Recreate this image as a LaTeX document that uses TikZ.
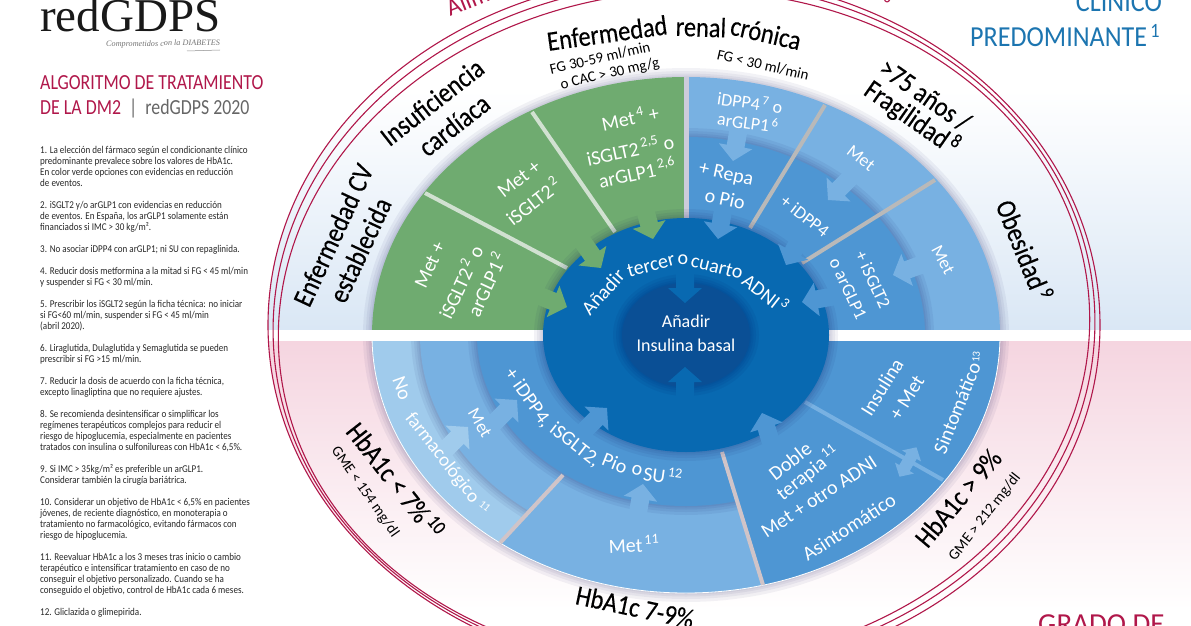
\documentclass[tikz,border=0pt]{standalone}
\usepackage{fontspec}
\setmainfont{Carlito}
\newfontfamily\logofont{Liberation Serif}
\newfontfamily\notefont[FakeStretch=0.87]{Carlito}
\newfontfamily\headfont[FakeBold=0.3,FakeStretch=0.87]{Carlito}
\newfontfamily\titlefont[FakeStretch=0.83]{Carlito}
\newfontfamily\cornerfont[FakeStretch=0.9]{Carlito}

\definecolor{crimson}{HTML}{B0174A}
\definecolor{sectorgreen}{HTML}{6FAB70}
\definecolor{lightblue}{HTML}{A0CBEC}
\definecolor{softblue}{HTML}{78B1E2}
\definecolor{midblue}{HTML}{4E96D3}
\definecolor{ringblue}{HTML}{0869B1}
\definecolor{coreblue}{HTML}{0A4F95}
\definecolor{paleblue}{HTML}{DAE7F5}
\definecolor{palepink}{HTML}{F5D5E0}
\definecolor{titleblue}{HTML}{1C75B0}

\begin{document}
\begin{tikzpicture}[x=1pt,y=-1pt,
    softedge/.style={draw=black!70!blue,opacity=.05},
    inlabel/.style={text=white,font=\fontsize{20}{22}\selectfont,inner sep=0pt},
    smallin/.style={text=white,font=\fontsize{18}{20}\selectfont,inner sep=0pt},
    headlabel/.style={text=black,font=\headfont\fontsize{28}{30}\selectfont,inner sep=0pt},
    sublabel/.style={text=black,font=\fontsize{15}{17}\selectfont,inner sep=0pt},
    splitline/.style={line width=4pt,line cap=butt},
    redline/.style={draw=crimson,line width=1.1pt}]

    \useasboundingbox (0,0) rectangle (1191,626);
    \clip (0,0) rectangle (1191,626);

    \def\redoutline{(684,325) ellipse (416 and 350)}
    \def\sectors{(686,335) ellipse (314 and 258)}
    \def\upperring{(686,335) ellipse (239 and 198)}
    \def\lowerwide{(686,335) ellipse (266 and 218)}
    \def\lowertight{(686,335) ellipse (209 and 171)}
    \def\addring{(686,335) ellipse (143 and 117)}
    \def\insulincore{(686,335) ellipse (64 and 52)}
    \def\tophalf{(300,0) rectangle (1100,329)}
    \def\bottomhalf{(300,341) rectangle (1100,626)}

    \def\blockarrow#1#2#3#4{\fill[#4,shift={(#1,#2)},rotate=#3] (0,0) -- (-15,17) -- (-15,9) -- (-44,9) -- (-44,-9) -- (-15,-9) -- (-15,-17) -- cycle;}
    \def\softring#1{\foreach \w in {18,12,7,3} \draw[softedge,line width=\w pt] #1;}

    %background:
    \begin{scope}
        \clip \redoutline;
        \shade[top color=white,bottom color=paleblue] (260,90) rectangle (684,329);
        \shade[top color=palepink,bottom color=white] (260,341) rectangle (684,610);
    \end{scope}
    \shade[top color=white,bottom color=paleblue] (684,90) rectangle (1191,329);
    \shade[top color=palepink,bottom color=white] (684,341) rectangle (1191,610);

    %red rings:
    \draw[redline] \redoutline;
    \draw[redline,rotate around={2:(684,326)}] (684,326) ellipse (411 and 344);
    \draw[redline,rotate around={4:(684,328)}] (684,328) ellipse (406 and 337);

    %upper half:
    \begin{scope}
        \clip \tophalf;
        \softring{\sectors}
        \begin{scope}
            \clip (300,0) rectangle (686,329);
            \fill[sectorgreen] \sectors;
        \end{scope}
        \begin{scope}
            \clip (686,0) rectangle (1100,329);
            \fill[softblue] \sectors;
            \softring{\upperring}
            \fill[midblue] \upperring;
        \end{scope}
    \end{scope}

    %lower half:
    \begin{scope}
        \clip \bottomhalf;
        \softring{\sectors}
        \fill[midblue] \sectors;
        \begin{scope}
            \clip (340,341) -- (688,341) -- (774,626) -- (340,626) -- cycle;
            \fill[softblue] \sectors;
            \begin{scope}
                \clip (340,341) -- (687,341) -- (423,626) -- (340,626) -- cycle;
                \fill[lightblue] \sectors;
                \softring{\lowerwide}
                \fill[softblue] \lowerwide;
            \end{scope}
            \softring{\lowertight}
            \fill[midblue] \lowertight;
        \end{scope}
        \draw[white,line width=.8pt] \sectors;
    \end{scope}

    %dividers:
    \draw[splitline,draw=black!20!green!10!white!80!gray] (425,193) -- (567,268);
    \draw[splitline,draw=black!20!green!10!white!80!gray] (532,112) -- (615,232);
    \draw[line width=5pt,draw=black!20!blue!10!white!75!gray] (686,77) -- (686,218);
    \draw[splitline,draw=gray!55!white] (825,105) -- (750,228);
    \draw[splitline,draw=gray!55!white] (935,180) -- (802,263);
    \draw[splitline,draw=crimson!20!gray!40!white] (500,543) -- (563,475);
    \draw[splitline,draw=crimson!20!gray!40!white] (722,452) -- (763,585);
    \draw[line width=4pt,draw=softblue] (805,402) -- (943,480);

    %centre:
    \softring{\addring}
    \fill[ringblue] \addring;
    \softring{\insulincore}
    \fill[coreblue] \insulincore;

    %arrows into the centre:
    \blockarrow{567}{307}{-22}{sectorgreen}
    \blockarrow{601}{268}{-55}{sectorgreen}
    \blockarrow{653}{239}{-75}{sectorgreen}
    \blockarrow{718}{239}{-100}{midblue}
    \blockarrow{786}{265}{-118}{midblue}
    \blockarrow{802}{302}{190}{midblue}
    \blockarrow{733}{161}{-100}{softblue}
    \blockarrow{828}{200}{225}{softblue}
    \blockarrow{893}{275}{200}{softblue}
    \blockarrow{468}{427}{45}{lightblue}
    \blockarrow{517}{400}{45}{softblue}
    \blockarrow{607}{408}{45}{midblue}
    \blockarrow{643}{484}{80}{softblue}
    \blockarrow{762}{413}{107}{midblue}
    \blockarrow{685}{303}{-90}{ringblue}
    \blockarrow{685}{367}{90}{ringblue}

    %double arrow on the last divider:
    \fill[softblue,shift={(908,462)},rotate=60] (17,0) -- (7,11) -- (7,6) -- (-7,6) -- (-7,11) -- (-17,0) -- (-7,-11) -- (-7,-6) -- (7,-6) -- (7,-11) -- cycle;

    %left column:
    \node[anchor=base west,inner sep=0pt,font=\logofont\fontsize{47}{47}\selectfont,text=black!90] (logo) at (40,32) {redGDPS};
    \node[anchor=base west,inner sep=0pt,rotate=1,font=\logofont\itshape\fontsize{8.2}{9}\selectfont,text=black!55] (motto) at (106,47) {Comprometidos con la DIABETES};
    \draw[black!45,line width=.5pt] (187,51) -- (220,50);
    \node[anchor=base west,inner sep=0pt,font=\titlefont\fontsize{21.5}{23}\selectfont,text=crimson] (titlea) at (40,89) {ALGORITMO DE TRATAMIENTO};
    \node[anchor=base west,inner sep=0pt,font=\titlefont\fontsize{21.5}{23}\selectfont,text=crimson] (titleb) at (40,114) {DE LA DM2 \textcolor{black!60}{\ | \ redGDPS 2020}};
    \node[anchor=north west,inner sep=0pt,align=left,text=black!85,font=\notefont\fontsize{10.4}{11}\selectfont] (notes) at (40,146) {%
        1. La elección del fármaco según el condicionante clínico\\
        predominante prevalece sobre los valores de HbA1c.\\
        En color verde opciones con evidencias en reducción\\
        de eventos.\\[11pt]
        2. iSGLT2 y/o arGLP1 con evidencias en reducción\\
        de eventos. En España, los arGLP1 solamente están\\
        financiados si IMC > 30 kg/m².\\[11pt]
        3. No asociar iDPP4 con arGLP1; ni SU con repaglinida.\\[11pt]
        4. Reducir dosis metformina a la mitad si FG < 45 ml/min\\
        y suspender si FG < 30 ml/min.\\[11pt]
        5. Prescribir los iSGLT2 según la ficha técnica: no iniciar\\
        si FG<60 ml/min, suspender si FG < 45 ml/min\\
        (abril 2020).\\[11pt]
        6. Liraglutida, Dulaglutida y Semaglutida se pueden\\
        prescribir si FG >15 ml/min.\\[11pt]
        7. Reducir la dosis de acuerdo con la ficha técnica,\\
        excepto linagliptina que no requiere ajustes.\\[11pt]
        8. Se recomienda desintensificar o simplificar los\\
        regímenes terapéuticos complejos para reducir el\\
        riesgo de hipoglucemia, especialmente en pacientes\\
        tratados con insulina o sulfonilureas con HbA1c < 6,5\%.\\[11pt]
        9. Si IMC > 35kg/m² es preferible un arGLP1.\\
        Considerar también la cirugía bariátrica.\\[11pt]
        10. Considerar un objetivo de HbA1c < 6,5\% en pacientes\\
        jóvenes, de reciente diagnóstico, en monoterapia o\\
        tratamiento no farmacológico, evitando fármacos con\\
        riesgo de hipoglucemia.\\[11pt]
        11. Reevaluar HbA1c a los 3 meses tras inicio o cambio\\
        terapéutico e intensificar tratamiento en caso de no\\
        conseguir el objetivo personalizado. Cuando se ha\\
        conseguido el objetivo, control de HbA1c cada 6 meses.\\[11pt]
        12. Gliclazida o glimepirida.};

    %corner titles:
    \node[font=\fontsize{24}{26}\selectfont,text=crimson,rotate=22,anchor=base west,inner sep=0pt] (foodlabel) at (450,17) {Alime};
    \node[font=\fontsize{22}{24}\selectfont,text=crimson,rotate=-20,inner sep=0pt] (percent) at (885,-6) {\%};
    \node[font=\cornerfont\fontsize{29}{31}\selectfont,text=titleblue,anchor=base east,inner sep=0pt] (clinicotitle) at (1162,12) {CLÍNICO};
    \node[font=\cornerfont\fontsize{29}{31}\selectfont,text=titleblue,anchor=base west,inner sep=0pt] (predominante) at (970,47) {PREDOMINANTE\textsuperscript{\,1}};
    \node[font=\fontsize{29}{31}\selectfont,text=crimson,anchor=base west,inner sep=0pt] (gradotitle) at (1038,633) {GRADO DE};

    %labels of the upper half:
    \node[headlabel,rotate=8] (renala) at (607,33) {Enfermedad};
    \node[headlabel,rotate=-2] (renalb) at (701,27) {renal};
    \node[headlabel,rotate=-13] (renalc) at (766,33) {crónica};
    \node[sublabel,rotate=13] (fga) at (600,58) {FG 30-59 ml/min};
    \node[sublabel,rotate=13] (fgb) at (610,74) {o CAC > 30 mg/g};
    \node[sublabel,rotate=-13] (fgc) at (763,65) {FG < 30 ml/min};
    \node[headlabel,rotate=38] (heartb) at (432,102) {Insuficiencia};
    \node[headlabel,rotate=38] (hearta) at (454,125) {cardíaca};
    \node[headlabel,rotate=65] (cva) at (333,235) {Enfermedad CV};
    \node[headlabel,rotate=65] (cvb) at (360,250) {establecida};
    \node[headlabel,rotate=-35] (agea) at (925,95) {>75 años /};
    \node[headlabel,rotate=-35] (ageb) at (912,118) {Fragilidad\textsuperscript{\,8}};
    \node[headlabel,rotate=-68] (obesity) at (1025,250) {Obesidad\textsuperscript{\,9}};

    \node[inlabel,rotate=12] (gthreea) at (630,117) {Met\textsuperscript{\,4} +};
    \node[inlabel,rotate=12] (gthreeb) at (630,149) {iSGLT2\textsuperscript{\,2,5} o};
    \node[inlabel,rotate=12] (gthreec) at (637,172) {arGLP1\textsuperscript{\,2,6}};
    \node[inlabel,rotate=38] (gtwoa) at (519,179) {Met +};
    \node[inlabel,rotate=38] (gtwob) at (533,201) {iSGLT2\textsuperscript{\,2}};
    \node[inlabel,rotate=65] (gonea) at (430,265) {Met +};
    \node[inlabel,rotate=65] (goneb) at (460,282) {iSGLT2\textsuperscript{\,2} o};
    \node[inlabel,rotate=65] (gonec) at (486,284) {arGLP1\textsuperscript{\,2}};
    \node[smallin,rotate=-8] (bonea) at (750,102) {iDPP4\textsuperscript{\,7} o};
    \node[smallin,rotate=-8] (boneb) at (748,122) {arGLP1\textsuperscript{\,6}};
    \node[inlabel,rotate=-12] (bonec) at (726,175) {+ Repa};
    \node[inlabel,rotate=-12] (boned) at (725,199) {o Pio};
    \node[smallin,rotate=-38] (btwoa) at (861,158) {Met};
    \node[smallin,rotate=-38] (btwob) at (805,216) {+ iDPP4};
    \node[smallin,rotate=-62] (bthreea) at (943,260) {Met};
    \node[smallin,rotate=-65] (bthreeb) at (873,280) {+ iSGLT2};
    \node[smallin,rotate=-65] (bthreec) at (848,289) {o arGLP1};

    %labels of the centre:
    \node[inlabel,rotate=48] (adda) at (603,292) {Añadir};
    \node[inlabel,rotate=15] (addb) at (651,265) {tercer};
    \node[inlabel] (addc) at (683,260) {o};
    \node[inlabel,rotate=-14] (addd) at (717,267) {cuarto};
    \node[inlabel,rotate=-38] (adde) at (766,293) {ADNI\textsuperscript{\,3}};
    \node[inlabel,align=center,font=\fontsize{18}{24}\selectfont] (basal) at (686,333) {Añadir\\Insulina basal};

    %labels of the lower half:
    \node[inlabel,rotate=-70] (nofarma) at (402,388) {No};
    \node[inlabel,rotate=-52,font=\fontsize{19}{22}\selectfont] (nofarmb) at (442,458) {farmacológico};
    \node[inlabel,rotate=-40,font=\fontsize{11}{12}\selectfont] (nofarmc) at (485,506) {11};
    \node[smallin,rotate=-60] (lowmet) at (480,423) {Met};
    \node[inlabel,rotate=-55] (dualb) at (528,398) {+ iDPP4,};
    \node[inlabel,rotate=-38] (dualc) at (575,445) {iSGLT2,};
    \node[inlabel,rotate=-22] (duald) at (615,463) {Pio};
    \node[inlabel,rotate=-16] (duale) at (637,470) {o};
    \node[inlabel,rotate=-8] (dualf) at (663,475) {SU\textsuperscript{\,12}};
    \node[inlabel,rotate=3] (midmet) at (634,544) {Met\textsuperscript{\,11}};
    \node[inlabel,rotate=58] (insa) at (882,387) {Insulina};
    \node[inlabel,rotate=58] (insb) at (907,398) {+ Met};
    \node[inlabel,rotate=68] (symptom) at (957,408) {Sintomático};
    \node[inlabel,rotate=85,font=\fontsize{11}{12}\selectfont] (symptomn) at (976,357) {13};
    \node[inlabel,rotate=38] (doublea) at (790,461) {Doble};
    \node[inlabel,rotate=38] (doubleb) at (808,473) {terapia\textsuperscript{\,11}};
    \node[inlabel,rotate=33] (doublec) at (819,497) {Met + otro ADNI};
    \node[inlabel,rotate=33] (noSymptom) at (849,527) {Asintomático};

    \node[headlabel,rotate=-52] (lowa) at (396,480) {HbA1c < 7\%\textsuperscript{\,10}};
    \node[sublabel,rotate=-55] (lowb) at (365,492) {GME < 154 mg/dl};
    \node[headlabel,rotate=-12] (mida) at (635,607) {HbA1c 7-9\%};
    \node[headlabel,rotate=50] (higha) at (958,498) {HbA1c > 9\%};
    \node[sublabel,rotate=52] (highb) at (985,517) {GME > 212 mg/dl};

\end{tikzpicture}
\end{document}
